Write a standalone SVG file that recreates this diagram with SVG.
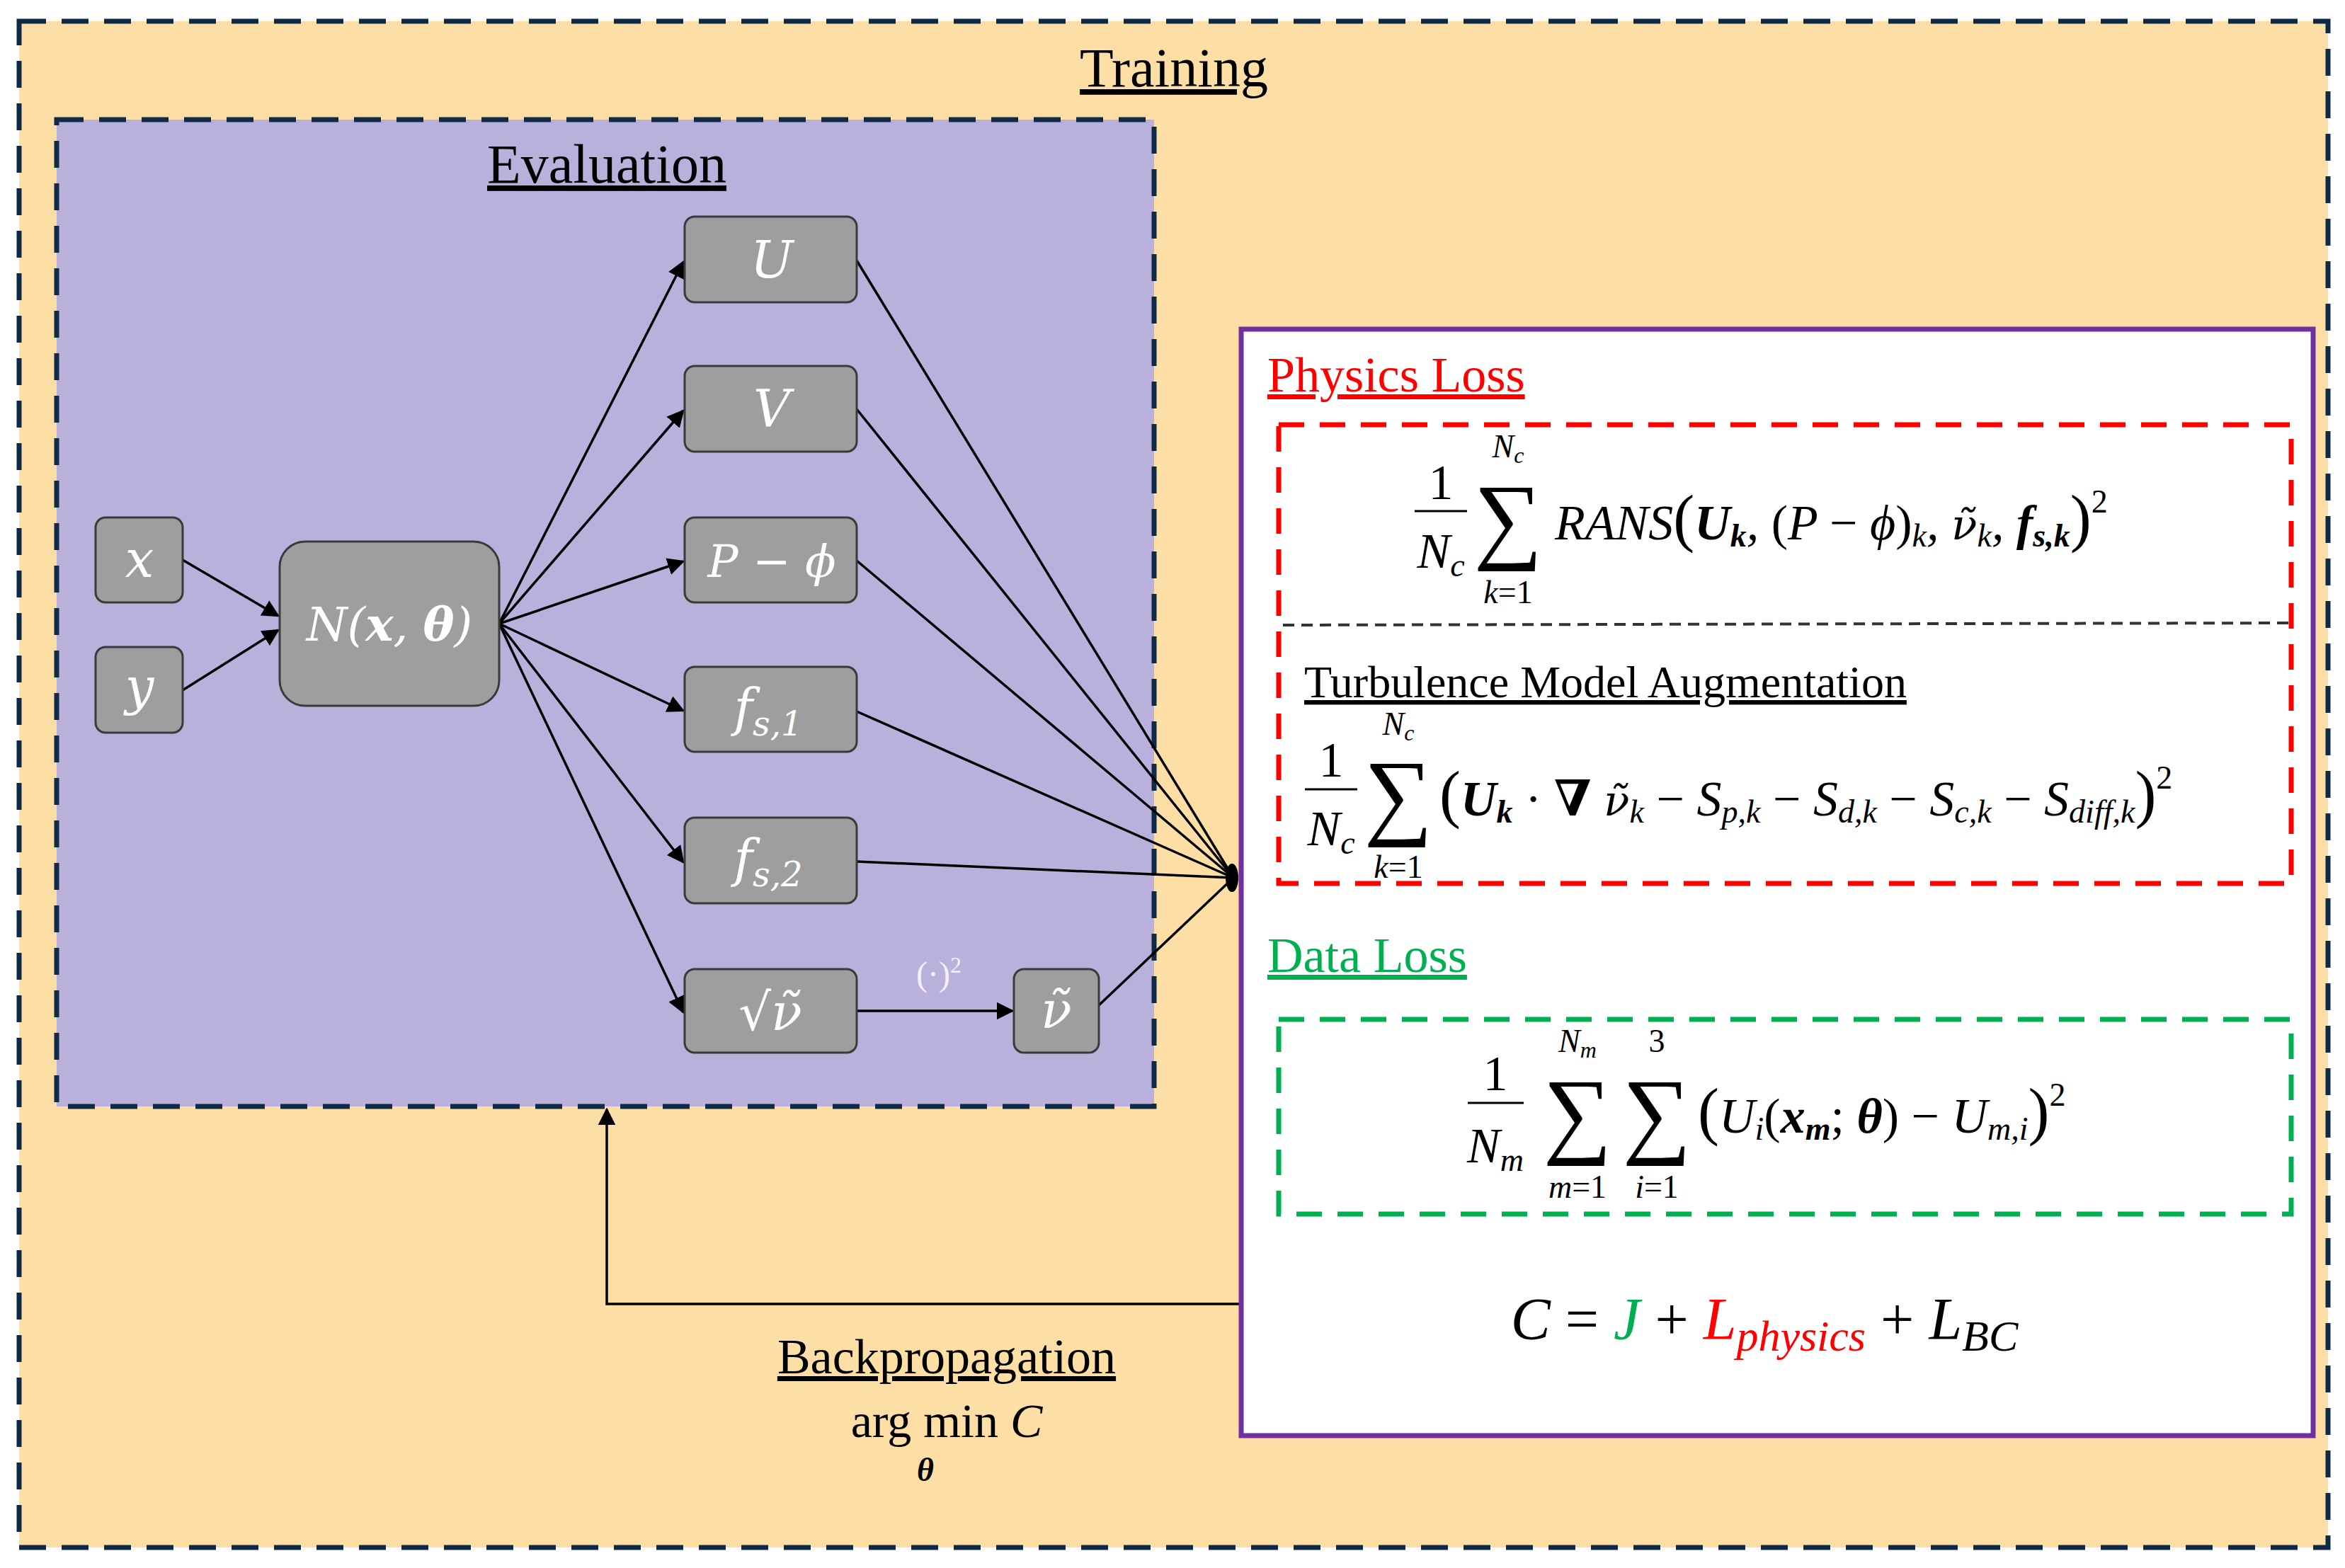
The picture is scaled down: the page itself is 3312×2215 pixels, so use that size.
<svg xmlns="http://www.w3.org/2000/svg" width="3312" height="2215" viewBox="0 0 3312 2215">
<defs>
<marker id="ah" viewBox="0 0 10 10" refX="9" refY="5" markerWidth="7" markerHeight="7" orient="auto"><path d="M0,0 L10,5 L0,10 z" fill="#000"/></marker>
<style>
.nd rect{fill:#9E9E9E;stroke:#3a3a3a;stroke-width:3}
.nt{font-family:"DejaVu Serif","Liberation Serif",serif;font-style:italic;fill:#fff;font-size:72px;text-anchor:middle}
.c line,.c path{stroke:#000;stroke-width:3.5;fill:none}
.m{font-family:"Liberation Serif","DejaVu Serif",serif;font-style:italic;fill:#000;font-size:70px}
.r{font-style:normal}
.b{font-weight:bold}
.dv{font-family:"DejaVu Serif",serif;font-size:60px}
.hd{font-family:"Liberation Serif",serif;font-size:78px;text-decoration:underline;text-anchor:middle}
.lb{font-family:"Liberation Serif",serif;font-size:70px;text-decoration:underline}
.sm{font-size:46px}
.sg{font-size:136px;font-style:normal}
</style>
</defs>
<rect width="3312" height="2215" fill="#fff"/>
<rect id="training" x="27" y="30" width="3261" height="2156" fill="#FDDEA4" stroke="#0F2A47" stroke-width="7" stroke-dasharray="38,22"/>
<text class="hd" x="1658" y="122">Training</text>
<rect id="evaluation" x="80" y="169" width="1550" height="1394" fill="#BAB0DC" stroke="#0F2A47" stroke-width="7" stroke-dasharray="38,22"/>
<text class="hd" x="857" y="258">Evaluation</text>

<g class="c">
<line x1="258" y1="791" x2="393" y2="870" marker-end="url(#ah)"/>
<line x1="258" y1="975" x2="393" y2="890" marker-end="url(#ah)"/>
<line x1="705" y1="881" x2="965" y2="370" marker-end="url(#ah)"/>
<line x1="705" y1="881" x2="965" y2="580" marker-end="url(#ah)"/>
<line x1="705" y1="881" x2="965" y2="793" marker-end="url(#ah)"/>
<line x1="705" y1="881" x2="965" y2="1004" marker-end="url(#ah)"/>
<line x1="705" y1="881" x2="965" y2="1218" marker-end="url(#ah)"/>
<line x1="705" y1="881" x2="965" y2="1430" marker-end="url(#ah)"/>
<line x1="1210" y1="1428" x2="1430" y2="1428" marker-end="url(#ah)"/>
<line x1="1210" y1="368" x2="1742" y2="1240"/>
<line x1="1210" y1="578" x2="1742" y2="1240"/>
<line x1="1210" y1="792" x2="1742" y2="1240"/>
<line x1="1210" y1="1005" x2="1742" y2="1240"/>
<line x1="1210" y1="1217" x2="1742" y2="1240"/>
<line x1="1552" y1="1420" x2="1742" y2="1240"/>
<ellipse cx="1740" cy="1240" rx="9" ry="20" fill="#000" stroke="none"/>
<path d="M1753,1842 L857,1842 L857,1567" marker-end="url(#ah)"/>
</g>
<text x="1326" y="1392" font-family="Liberation Serif,serif" font-size="48" fill="#f4f0ff" text-anchor="middle">(·)<tspan font-size="32" dy="-18">2</tspan></text>

<g id="n-x" class="nd"><rect x="135" y="731" width="123" height="120" rx="14"/><text class="nt" x="197" y="815">x</text></g>
<g id="n-y" class="nd"><rect x="135" y="914" width="123" height="121" rx="14"/><text class="nt" x="197" y="995">y</text></g>
<g id="n-N" class="nd"><rect x="395" y="765" width="310" height="232" rx="36"/><text class="nt" x="550" y="905" style="font-size:66px">N(<tspan class="b">x</tspan>, <tspan class="b">θ</tspan>)</text></g>
<g id="n-U" class="nd"><rect x="967" y="306" width="243" height="121" rx="14"/><text class="nt" x="1090" y="392">U</text></g>
<g id="n-V" class="nd"><rect x="967" y="517" width="243" height="121" rx="14"/><text class="nt" x="1090" y="603">V</text></g>
<g id="n-P" class="nd"><rect x="967" y="731" width="243" height="120" rx="14"/><text class="nt" x="1090" y="815" style="font-size:64px">P − ϕ</text></g>
<g id="n-fs1" class="nd"><rect x="967" y="942" width="243" height="120" rx="14"/><text class="nt" x="1085" y="1025">f<tspan style="font-size:48px" dy="14">s,1</tspan></text></g>
<g id="n-fs2" class="nd"><rect x="967" y="1155" width="243" height="121" rx="14"/><text class="nt" x="1085" y="1238">f<tspan style="font-size:48px" dy="14">s,2</tspan></text></g>
<g id="n-sqrt" class="nd"><rect x="967" y="1369" width="243" height="118" rx="14"/><text class="nt" x="1088" y="1455">√ν̃</text></g>
<g id="n-nu" class="nd"><rect x="1432" y="1369" width="120" height="118" rx="14"/><text class="nt" x="1492" y="1452">ν̃</text></g>

<g id="loss">
<rect x="1753" y="465" width="1514" height="1563" fill="#fff" stroke="#7030A0" stroke-width="7"/>
<text class="lb" x="1790" y="553" fill="#FF0000">Physics Loss</text>
<rect x="1806" y="600" width="1430" height="648" fill="none" stroke="#FF0000" stroke-width="7" stroke-dasharray="36,22"/>
<line x1="1812" y1="883" x2="3240" y2="880" stroke="#333" stroke-width="4" stroke-dasharray="16,10"/>
<text class="m r" x="2035" y="705" text-anchor="middle">1</text>
<line x1="1998" y1="722" x2="2072" y2="722" stroke="#000" stroke-width="3"/>
<text class="m" x="2035" y="802" text-anchor="middle">N<tspan class="sm" dy="12">c</tspan></text>
<text class="m sm" x="2130" y="646" text-anchor="middle">N<tspan style="font-size:32px" dy="8">c</tspan></text>
<text class="m sg" x="2130" y="778" text-anchor="middle">∑</text>
<text class="m sm" x="2130" y="852" text-anchor="middle">k<tspan class="r">=1</tspan></text>
<text class="m" x="2196" y="762">RANS<tspan class="r" style="font-size:90px">(</tspan><tspan class="b">U</tspan><tspan class="b sm" dy="10">k</tspan><tspan dy="-10">, </tspan><tspan class="r">(</tspan>P <tspan class="r">−</tspan> ϕ<tspan class="r">)</tspan><tspan class="sm" dy="10">k</tspan><tspan dy="-10">, </tspan><tspan class="dv">ν̃</tspan><tspan class="sm" dy="10">k</tspan><tspan dy="-10">, </tspan><tspan class="b">f</tspan><tspan class="b sm" dy="10">s,k</tspan><tspan class="r" style="font-size:90px" dy="-10">)</tspan><tspan class="r sm" dy="-38">2</tspan></text>

<text class="lb" x="1842" y="985" fill="#000" style="font-size:64px">Turbulence Model Augmentation</text>
<text class="m r" x="1880" y="1097" text-anchor="middle">1</text>
<line x1="1843" y1="1115" x2="1917" y2="1115" stroke="#000" stroke-width="3"/>
<text class="m" x="1880" y="1194" text-anchor="middle">N<tspan class="sm" dy="12">c</tspan></text>
<text class="m sm" x="1975" y="1038" text-anchor="middle">N<tspan style="font-size:32px" dy="8">c</tspan></text>
<text class="m sg" x="1975" y="1168" text-anchor="middle">∑</text>
<text class="m sm" x="1975" y="1240" text-anchor="middle">k<tspan class="r">=1</tspan></text>
<text class="m" x="2033" y="1152"><tspan class="r" style="font-size:90px">(</tspan><tspan class="b">U</tspan><tspan class="b sm" dy="10">k</tspan><tspan class="r" dy="-10"> · </tspan><tspan class="b r">∇</tspan> <tspan class="dv">ν̃</tspan><tspan class="sm" dy="10">k</tspan><tspan class="r" dy="-10"> − </tspan>S<tspan class="sm" dy="10">p,k</tspan><tspan class="r" dy="-10"> − </tspan>S<tspan class="sm" dy="10">d,k</tspan><tspan class="r" dy="-10"> − </tspan>S<tspan class="sm" dy="10">c,k</tspan><tspan class="r" dy="-10"> − </tspan>S<tspan class="sm" dy="10">diff,k</tspan><tspan class="r" style="font-size:90px" dy="-10">)</tspan><tspan class="r sm" dy="-38">2</tspan></text>

<text class="lb" x="1790" y="1373" fill="#00B050">Data Loss</text>
<rect x="1806" y="1440" width="1430" height="275" fill="none" stroke="#00B050" stroke-width="7" stroke-dasharray="36,22"/>
<text class="m r" x="2112" y="1540" text-anchor="middle">1</text>
<line x1="2073" y1="1558" x2="2152" y2="1558" stroke="#000" stroke-width="3"/>
<text class="m" x="2112" y="1642" text-anchor="middle">N<tspan class="sm" dy="12">m</tspan></text>
<text class="m sm" x="2228" y="1486" text-anchor="middle">N<tspan style="font-size:32px" dy="8">m</tspan></text>
<text class="m sg" x="2228" y="1618" text-anchor="middle">∑</text>
<text class="m sm" x="2228" y="1692" text-anchor="middle">m<tspan class="r">=1</tspan></text>
<text class="m r sm" x="2340" y="1486" text-anchor="middle">3</text>
<text class="m sg" x="2340" y="1618" text-anchor="middle">∑</text>
<text class="m sm" x="2340" y="1692" text-anchor="middle">i<tspan class="r">=1</tspan></text>
<text class="m" x="2398" y="1600"><tspan class="r" style="font-size:90px">(</tspan>U<tspan class="sm" dy="10">i</tspan><tspan class="r" dy="-10">(</tspan><tspan class="b">x</tspan><tspan class="b sm" dy="10">m</tspan><tspan class="r" dy="-10">; </tspan><tspan class="b">θ</tspan><tspan class="r">) − </tspan>U<tspan class="sm" dy="10">m,i</tspan><tspan class="r" style="font-size:90px" dy="-10">)</tspan><tspan class="r sm" dy="-38">2</tspan></text>

<text class="m" x="2492" y="1892" style="font-size:84px" text-anchor="middle">C <tspan class="r">=</tspan> <tspan fill="#00B050">J</tspan> <tspan class="r">+</tspan> <tspan fill="#FF0000">L</tspan><tspan fill="#FF0000" style="font-size:62px" dy="16">physics</tspan><tspan class="r" dy="-16"> + </tspan>L<tspan style="font-size:62px" dy="16">BC</tspan></text>
</g>

<text class="lb" x="1337" y="1940" text-anchor="middle">Backpropagation</text>
<text x="1337" y="2030" font-family="Liberation Serif,serif" font-size="68" text-anchor="middle">arg min <tspan font-style="italic">C</tspan></text>
<text x="1307" y="2092" font-family="Liberation Serif,serif" font-size="46" font-style="italic" font-weight="bold" text-anchor="middle">θ</text>
</svg>
